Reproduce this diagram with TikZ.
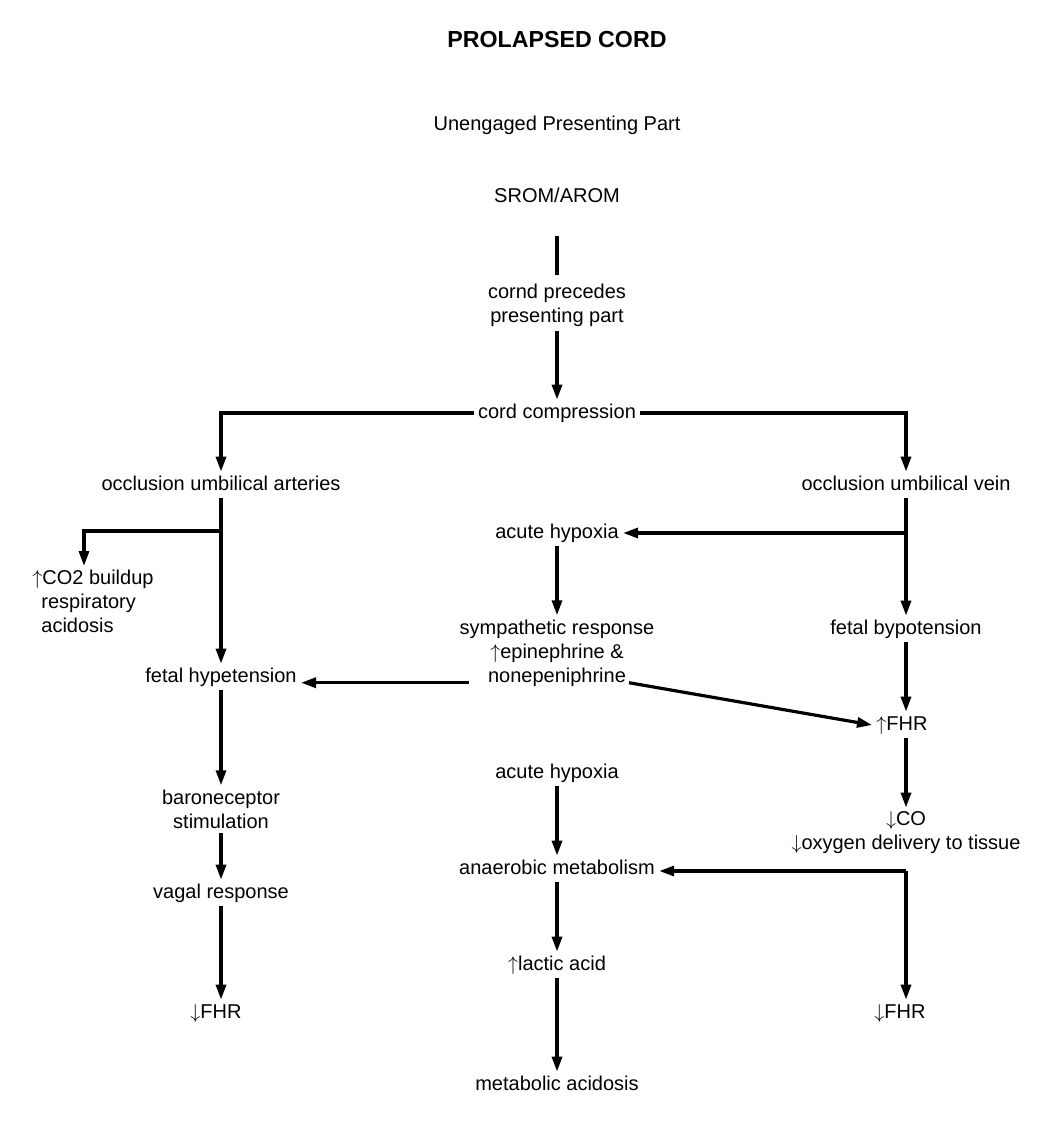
\documentclass[tikz,border=0pt]{standalone}
\usepackage{fontspec}
\setmainfont{Liberation Sans}
\usetikzlibrary{arrows.meta}
\tikzstyle{one}=[inner sep=2pt, font=\fontsize{10}{12}\selectfont, text height=7pt, text depth=2pt]
\tikzstyle{multi}=[inner sep=2pt, font=\fontsize{10}{12}\selectfont, align=center]
\tikzstyle{arr}=[-{Triangle[length=7.5pt,width=5pt]}, line width=1.6pt]
\newcommand{\upar}{\makebox[5pt][l]{$\uparrow$}}
\newcommand{\dnar}{\makebox[5pt][l]{$\downarrow$}}

\begin{document}
\begin{tikzpicture}[x=0.5pt, y=-0.5pt]
    \useasboundingbox (0,0) rectangle (1050,1130);
    \node[font=\fontsize{11.6}{14}\selectfont\bfseries] (title) at (557,40) {PROLAPSED CORD};
    \node[one] (unen) at (557,125) {Unengaged Presenting Part};
    \node[one] (srom) at (557,197) {SROM/AROM};
    \node[multi] (cornd) at (557,305) {cornd precedes\\presenting part};
    \node[one] (cordcomp) at (557,413) {cord compression};
    \node[one] (occart) at (221,485) {occlusion umbilical arteries};
    \node[one] (occvein) at (906,485) {occlusion umbilical vein};
    \node[one] (acute1) at (557,533) {acute hypoxia};
    \node[multi, align=left, anchor=north west] (co2) at (28,566)
      {\upar CO2 buildup\\\hspace{4.5pt}respiratory\\\hspace{4.5pt}acidosis};
    \node[multi] (symp) at (557,653) {sympathetic response\\\upar epinephrine \&\\nonepeniphrine};
    \node[one] (fetbyp) at (906,629) {fetal bypotension};
    \node[one] (fethyp) at (221,677) {fetal hypetension};
    \node[one] (upFHR) at (902,725) {\upar FHR};
    \node[one] (acute2) at (557,773) {acute hypoxia};
    \node[multi] (baro) at (221,809) {baroneceptor\\stimulation};
    \node[multi] (downCO) at (906,833) {\dnar CO\\\dnar oxygen delivery to tissue};
    \node[one] (anaer) at (557,869) {anaerobic metabolism};
    \node[one] (vagal) at (221,893) {vagal response};
    \node[one] (lactic) at (557,965) {\upar lactic acid};
    \node[one] (lFHR) at (216,1013) {\dnar FHR};
    \node[one] (rFHR) at (900,1013) {\dnar FHR};
    \node[one] (metab) at (557,1085) {metabolic acidosis};
    \coordinate (j1) at (221,531);
    \coordinate (j2) at (906,533);
    \coordinate (j3) at (906,871);
    \coordinate (hs) at ([shift={(-44pt,4pt)}]symp.south);

    \draw[line width=1.6pt, shorten <=13pt, shorten >=2pt] (srom) -- (cornd);
    \foreach \from/\to in
      {cornd/cordcomp, occart/fethyp, occvein/fetbyp, acute1/symp, fethyp/baro,
       baro/vagal, acute2/anaer, anaer/lactic, lactic/metab}
    \draw[arr] (\from) -- (\to);
    \draw[arr] (cordcomp.west) -| (occart.north);
    \draw[arr] (cordcomp.east) -| (occvein.north);
    \draw[arr] (j1) -| ([xshift=-4.5pt]co2.north);
    \draw[arr] (j2) -- (acute1.east);
    \draw[arr] (fetbyp) -- (fetbyp |- upFHR.north);
    \draw[arr] (hs) -- (hs -| fethyp.east);
    \draw[arr] ([shift={(36pt,4pt)}]symp.south) -- (upFHR.west);
    \draw[arr] (upFHR.south -| downCO) -- (downCO.north);
    \draw[arr] (j3) -- (anaer.east |- j3);
    \draw[arr] (j3) -- (j3 |- rFHR.north);
    \draw[arr] (vagal) -- (vagal |- lFHR.north);
\end{tikzpicture}
\end{document}
